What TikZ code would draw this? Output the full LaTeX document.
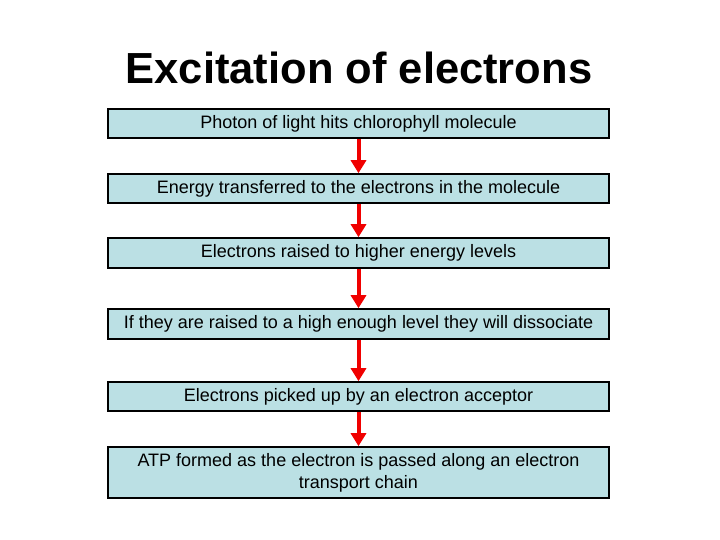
\documentclass[tikz,border=0pt]{standalone}
\usepackage{fontspec}
\setmainfont{Liberation Sans}
\usetikzlibrary{arrows.meta}
\definecolor{boxfill}{RGB}{187,224,228}
\definecolor{arrred}{RGB}{240,0,0}
\begin{document}
\begin{tikzpicture}[x=1pt,y=-1pt,
  stepbox/.style={draw=black,line width=1.6pt,fill=boxfill,minimum width=501pt,inner sep=0pt,align=center,font=\fontsize{18}{22}\selectfont},
  flow/.style={draw=arrred,line width=4pt,-{Triangle[length=13pt,width=15pt]}}]
\useasboundingbox (0,0) rectangle (720,540);
\node[font=\bfseries\fontsize{43.5}{50}\selectfont] (title) at (359,68) {Excitation of electrons};
\node[stepbox,minimum height=29pt] (b1) at (358.5,123.5) {Photon of light hits chlorophyll molecule};
\node[stepbox,minimum height=29pt] (b2) at (358.5,188.5) {Energy transferred to the electrons in the molecule};
\node[stepbox,minimum height=30pt] (b3) at (358.5,253) {Electrons raised to higher energy levels};
\node[stepbox,minimum height=30pt] (b4) at (358.5,324) {If they are raised to a high enough level they will dissociate};
\node[stepbox,minimum height=29pt] (b5) at (358.5,396.5) {Electrons picked up by an electron acceptor};
\node[stepbox,minimum height=51pt] (b6) at (358.5,472.5) {ATP formed as the electron is passed along an electron\\transport chain};
\draw[flow] (b1.south) -- (b2.north);
\draw[flow] (b2.south) -- (b3.north);
\draw[flow] (b3.south) -- (b4.north);
\draw[flow] (b4.south) -- (b5.north);
\draw[flow] (b5.south) -- (b6.north);
\end{tikzpicture}
\end{document}
